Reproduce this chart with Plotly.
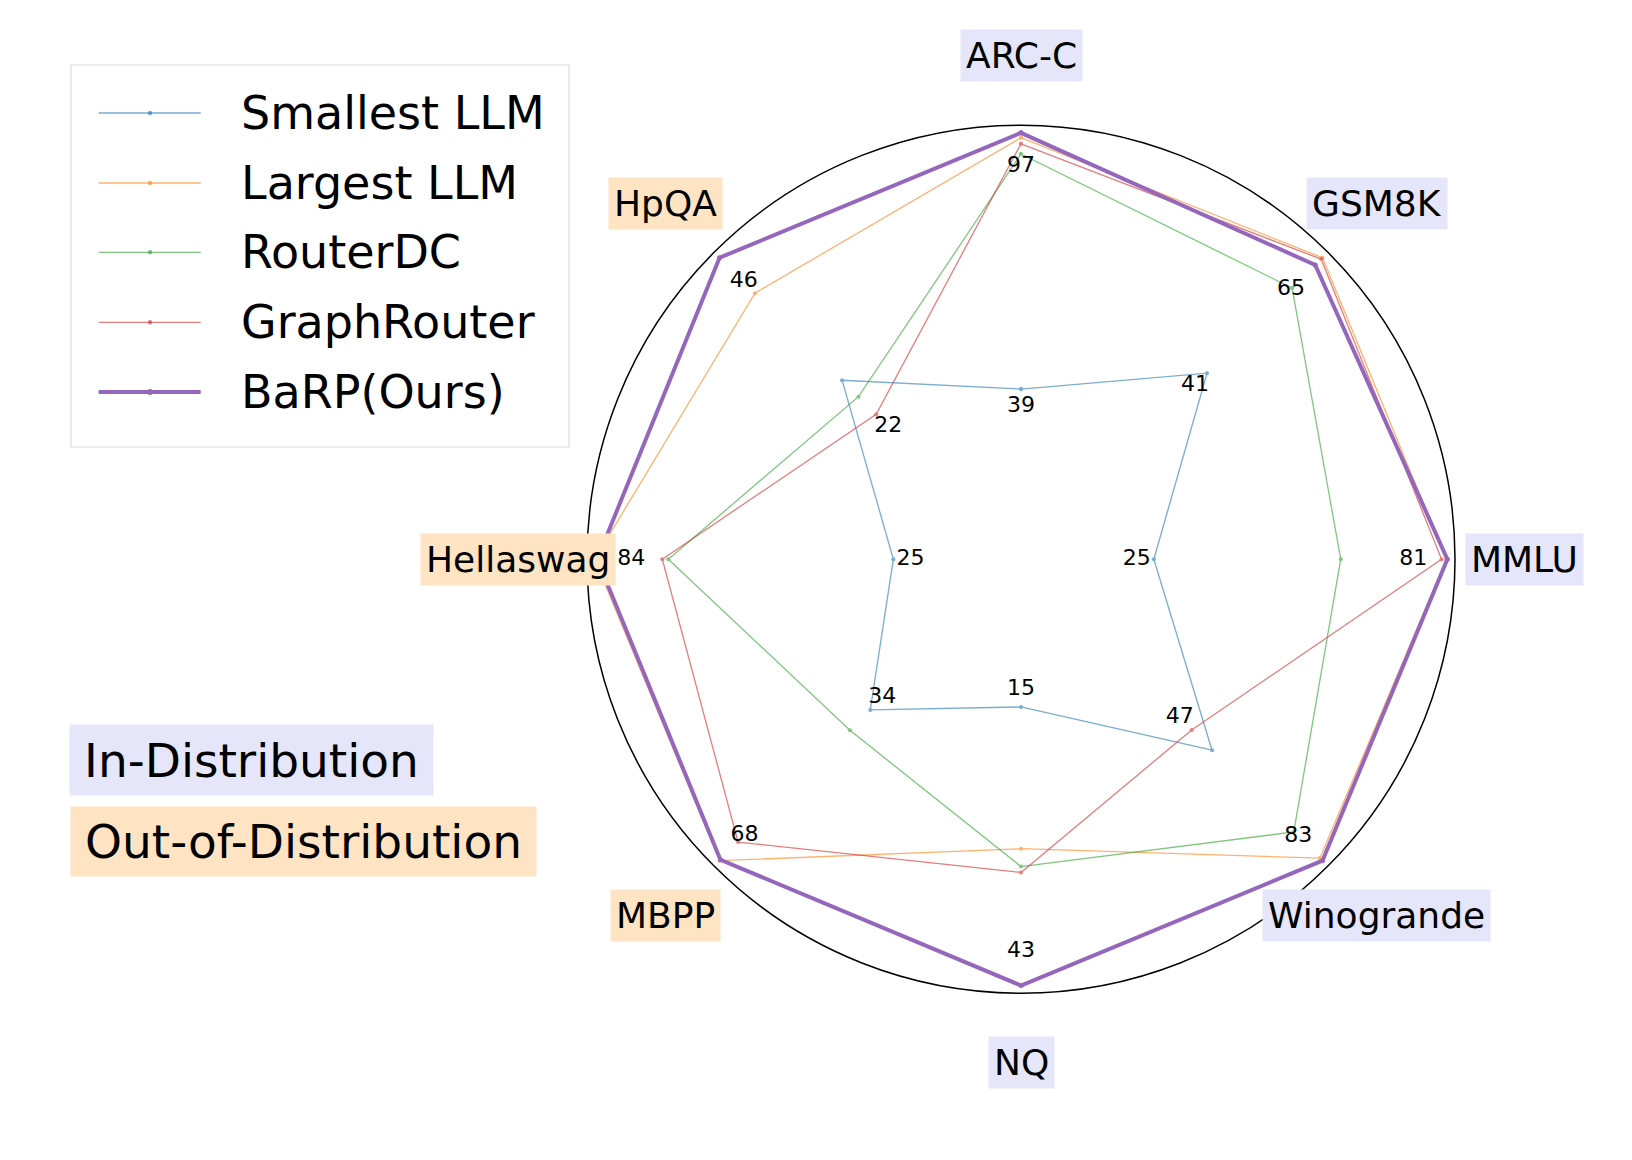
import math
import plotly.graph_objects as go

# ---------------- data ----------------
categories = ["ARC-C", "GSM8K", "MMLU", "Winogrande", "NQ", "MBPP", "Hellaswag", "HpQA"]
in_distribution = [True, True, True, True, True, False, False, False]

smallest = [38.7, 41.1, 25.3, 52.6, 14.9, 34.1, 25.3, 27.3]
largest = [95.9, 66.6, 81.0, 82.3, 29.2, 68.2, 84.5, 40.6]
routerdc = [92.2, 59.9, 60.9, 75.1, 31.0, 38.7, 69.9, 24.8]
graphrouter = [94.5, 66.3, 80.1, 47.0, 31.6, 64.0, 71.1, 22.1]
barp = [97.0, 65.0, 81.2, 83.0, 43.0, 68.0, 84.0, 46.0]

series_names = ["Smallest LLM", "Largest LLM", "RouterDC", "GraphRouter", "BaRP(Ours)"]
series_values = [smallest, largest, routerdc, graphrouter, barp]
series_colors = ["#1f77b4", "#ff7f0e", "#2ca02c", "#d62728", "#9467bd"]

ID_COLOR = "#E6E6FA"
OOD_COLOR = "#FFE4C4"
FONT = "DejaVu Sans"

W, H = 1632, 1160

# per-axis normalisation by the best score on that axis
col_max = [max(s[i] for s in series_values) for i in range(len(categories))]
col_min = [min(s[i] for s in series_values) for i in range(len(categories))]


def norm(vals):
    return [v / m for v, m in zip(vals, col_max)]


fig = go.Figure()

for name, vals, color in zip(series_names, series_values, series_colors):
    is_ours = name.startswith("BaRP")
    r = norm(vals)
    fig.add_trace(go.Scatterpolar(
        r=r + [r[0]],
        theta=categories + [categories[0]],
        mode="lines+markers",
        name=name,
        line=dict(color=color, width=4 if is_ours else 1.3),
        marker=dict(color=color, size=5 if is_ours else 4),
        opacity=1.0 if is_ours else 0.6,
        showlegend=False,
    ))

# value labels: BaRP score (just inside its vertex) and the minimum score
barp_norm = norm(barp)
min_norm = [mn / mx for mn, mx in zip(col_min, col_max)]
fig.add_trace(go.Scatterpolar(
    r=[v - 0.08 for v in barp_norm] + [v - 0.04 for v in min_norm],
    theta=categories + categories,
    mode="text",
    text=[f"{v:.0f}" for v in barp] + [f"{v:.0f}" for v in col_min],
    textposition="middle center",
    textfont=dict(family=FONT, size=22, color="black"),
    showlegend=False,
    hoverinfo="skip",
))

# polar geometry
dom_x = [579 / W, 1447 / W]
dom_y = [1 - 985.2 / H, 1 - 117.2 / H]
fig.update_layout(
    width=W, height=H,
    margin=dict(l=0, r=0, t=0, b=0),
    paper_bgcolor="white",
    showlegend=False,
    font=dict(family=FONT, color="black"),
    polar=dict(
        domain=dict(x=dom_x, y=dom_y),
        bgcolor="white",
        radialaxis=dict(range=[0, 1.018], visible=False),
        angularaxis=dict(
            rotation=90, direction="clockwise",
            showticklabels=False, showgrid=False, ticks="",
            showline=True, linecolor="black", linewidth=1.5,
        ),
    ),
)

annotations = []
shapes = []

# category labels with coloured boxes
cx = (dom_x[0] + dom_x[1]) / 2
cy = (dom_y[0] + dom_y[1]) / 2
R_px = min((dom_x[1] - dom_x[0]) * W, (dom_y[1] - dom_y[0]) * H) / 2
label_dist = 1.16 * R_px
n = len(categories)
for i, (cat, is_id) in enumerate(zip(categories, in_distribution)):
    ang = 2 * math.pi * i / n
    annotations.append(dict(
        x=cx + label_dist * math.sin(ang) / W,
        y=cy + label_dist * math.cos(ang) / H,
        xref="paper", yref="paper",
        text=cat, showarrow=False,
        xanchor="center", yanchor="middle",
        font=dict(family=FONT, size=36, color="black"),
        bgcolor=ID_COLOR if is_id else OOD_COLOR,
        borderpad=5,
    ))

# In / Out-of-distribution key
for txt, col, xc, yc, bw, bh in [
    ("In-Distribution", ID_COLOR, 243.7, 751.7, 363, 70),
    ("Out-of-Distribution", OOD_COLOR, 295.0, 833.7, 465, 69),
]:
    annotations.append(dict(
        x=xc / W, y=1 - yc / H, xref="paper", yref="paper",
        text=txt, showarrow=False, xanchor="center", yanchor="middle",
        width=bw, height=bh, borderpad=0, bgcolor=col,
        font=dict(family=FONT, size=47, color="black"),
    ))

# custom legend (matplotlib style)
shapes.append(dict(
    type="rect", xref="paper", yref="paper",
    x0=63 / W, x1=561 / W, y0=1 - 439 / H, y1=1 - 57 / H,
    line=dict(color="#dcdcdc", width=1.2), fillcolor="rgba(255,255,255,0.8)",
    layer="above",
))
row_y = [105, 175, 244.3, 314.3, 384]
for name, color, yv in zip(series_names, series_colors, row_y):
    is_ours = name.startswith("BaRP")
    op = 1.0 if is_ours else 0.6
    yp = 1 - yv / H
    shapes.append(dict(
        type="line", xref="paper", yref="paper",
        x0=90.7 / W, x1=192.7 / W, y0=yp, y1=yp,
        line=dict(color=color, width=4 if is_ours else 1.3), opacity=op, layer="above",
    ))
    rad = 3 if is_ours else 2.2
    shapes.append(dict(
        type="circle", xref="paper", yref="paper",
        x0=(142 - rad) / W, x1=(142 + rad) / W,
        y0=yp - rad / H, y1=yp + rad / H,
        line=dict(color=color, width=0), fillcolor=color, opacity=op, layer="above",
    ))
    annotations.append(dict(
        x=230.7 / W, y=yp, xref="paper", yref="paper",
        text=name, showarrow=False, xanchor="left", yanchor="middle",
        font=dict(family=FONT, size=46, color="black"),
    ))

fig.update_layout(annotations=annotations, shapes=shapes)

fig.write_html("out.html")
